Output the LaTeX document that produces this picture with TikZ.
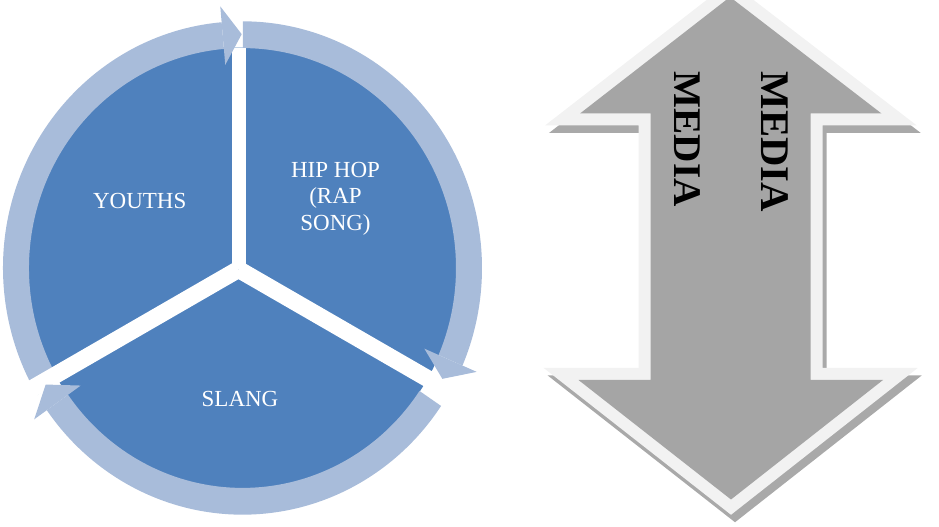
\documentclass[tikz,border=0pt]{standalone}
\usepackage{fontspec}
\setmainfont{Liberation Serif}
\definecolor{pieblue}{HTML}{4F81BD}
\definecolor{ringblue}{HTML}{A8BCDA}
\definecolor{arrowgray}{HTML}{A5A5A5}
\definecolor{arrowedge}{HTML}{F2F2F2}
\definecolor{shadowgray}{HTML}{A9A9A9}
\tikzset{
  dblarrow/.style={insert path={(730,530) -- (881.5,413.5) -- (810.5,413.5) -- (810.5,147) -- (883,147) -- (731,27.5) -- (578.5,147) -- (650.7,147) -- (650.7,413.5) -- (580,413.5) -- cycle}},
  ringseg/.style={fill=ringblue},
  spokeline/.style={draw=white, line cap=butt},
  pielabel/.style={text=white, inner sep=0pt, anchor=base, font=\fontsize{23}{26}\selectfont},
  medialabel/.style={rotate=-90, inner sep=0pt, text=black}
}
\begin{document}
\begin{tikzpicture}[x=1pt,y=1pt]
\useasboundingbox (0,0) rectangle (939,527);
\clip (0,0) rectangle (939,527);

% ---- cycle diagram ----
\begin{scope}[shift={(242.5,259)}, yscale=1.03]
  \fill[pieblue] (0,0) circle[radius=214];
  \fill[ringseg] (211:213.5) arc[start angle=211, end angle=95, radius=213.5]
        -- (95:239.5) arc[start angle=95, end angle=211, radius=239.5] -- cycle;
  \fill[ringseg] (89.9:213.5) arc[start angle=89.9, end angle=-23.3, radius=213.5]
        -- (-23.3:239.5) arc[start angle=-23.3, end angle=89.9, radius=239.5] -- cycle;
  \fill[ringseg] (-34:213.5) arc[start angle=-34, end angle=-144.8, radius=213.5]
        -- (-144.8:239.5) arc[start angle=-144.8, end angle=-34, radius=239.5] -- cycle;
\end{scope}

\coordinate (J) at (238.5,257.6);
\coordinate (Vb) at (238.7,257.6);
\coordinate (Vt) at (238.7,479);
\draw[spokeline, line width=14] (Vb) -- (Vt);
\draw[spokeline, line width=17] (J) -- ++(210:285);
\draw[spokeline, line width=17] (J) -- ++(-30:285);

\begin{scope}[shift={(242.5,259)}, yscale=1.03]
  \fill[ringseg] (95:198) -- (90.2:227) -- (95:255) -- cycle;
  \fill[ringseg] (-23.3:198) -- (-28.3:227) -- (-23.3:255) -- cycle;
  \fill[ringseg] (-144.8:198) -- (-150.1:227) -- (-144.8:255) -- cycle;
\end{scope}

\node[pielabel] (youths) at (139.7,318.7) {YOUTHS};
\node[pielabel] (hip1) at (335.5,349) {HIP HOP};
\node[pielabel] (hip2) at (335.5,323) {(RAP};
\node[pielabel] (hip3) at (335.5,296) {SONG)};
\node[pielabel] (slang) at (240,120.3) {SLANG};

% ---- double arrow ----
\begin{scope}[shift={(4,-7.5)}]
  \filldraw[shadowgray, line width=24, line join=miter, dblarrow];
\end{scope}
\draw[arrowedge, line width=24, line join=miter, dblarrow];
\fill[arrowgray, dblarrow];

\node[medialabel, font=\bfseries\fontsize{39.2}{40}\selectfont] (media1) at (687,387.8) {MEDIA};
\node[medialabel, font=\bfseries\fontsize{40.7}{42}\selectfont] (media2) at (774.7,385.3) {MEDIA};
\end{tikzpicture}
\end{document}
